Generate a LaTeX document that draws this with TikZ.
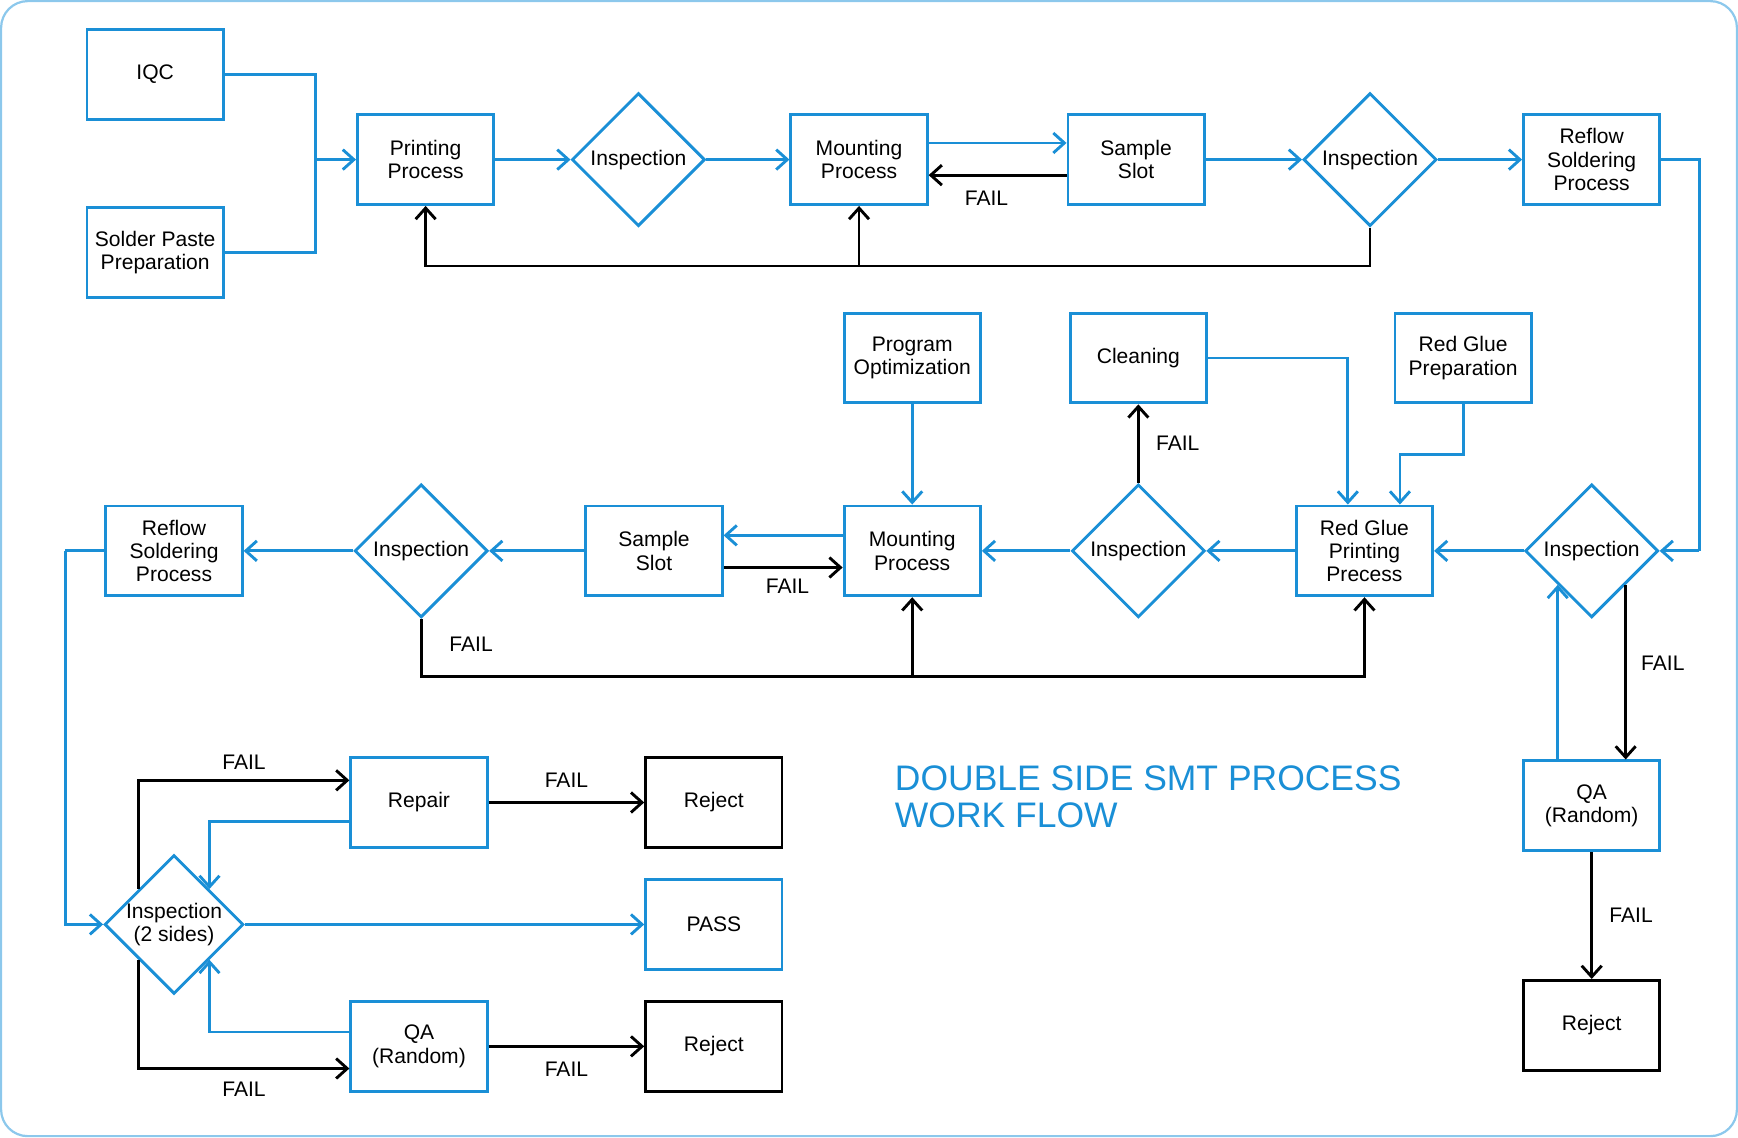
\documentclass[tikz,border=0pt]{standalone}
\usepackage{fontspec}
\setmainfont{Liberation Sans}
\usetikzlibrary{shapes.geometric,arrows.meta,calc}
\definecolor{bl}{HTML}{1A8FD6}
\definecolor{fr}{HTML}{8CC8EC}
\begin{document}
\begin{tikzpicture}[x=0.5pt,y=-0.5pt,
  box/.style={draw=bl,line width=1.3pt,minimum width=61.5pt,minimum height=40.5pt,inner sep=1pt,align=center,font=\fontsize{9.5}{10.5}\selectfont},
  bbox/.style={box,draw=black},
  dia/.style={draw=bl,line width=1.3pt,diamond,minimum width=60pt,minimum height=60pt,inner sep=0pt,align=center,font=\fontsize{9.5}{10.5}\selectfont},
  bar/.style={bl,line width=1.3pt,-{Straight Barb[length=5pt,width=9pt,line width=1.3pt]}},
  kar/.style={bar,black},
  bln/.style={bl,line width=1.3pt},
  kln/.style={black,line width=1.3pt},
  lab/.style={font=\fontsize{9.5}{10.5}\selectfont}]
\useasboundingbox (0,0) rectangle (1568,1026);
\draw[fr,line width=1pt,rounded corners=12pt] (1,1) rectangle (1567,1025);
% row 1
\node[box] (iqc) at (140,67) {IQC};
\node[box] (sp) at (140,228) {Solder Paste\\Preparation};
\node[box] (pr) at (384,144) {Printing\\Process};
\node[dia] (i1) at (576,144) {Inspection};
\node[box] (m1) at (775,144) {Mounting\\Process};
\node[box] (s1) at (1025,144) {Sample\\Slot};
\node[dia] (i2) at (1236,144) {Inspection};
\node[box] (r1) at (1436,144) {Reflow\\Soldering\\Process};
% row 2
\node[box] (po) at (823,323) {Program\\Optimization};
\node[box] (cl) at (1027,323) {Cleaning};
\node[box] (rgp) at (1320,323) {Red Glue\\Preparation};
\node[box] (r2) at (157,497) {Reflow\\Soldering\\Process};
\node[dia] (i3) at (380,497) {Inspection};
\node[box] (s2) at (590,497) {Sample\\Slot};
\node[box] (m2) at (823,497) {Mounting\\Process};
\node[dia] (i4) at (1027,497) {Inspection};
\node[box] (rg) at (1231,497) {Red Glue\\Printing\\Precess};
\node[dia] (i5) at (1436,497) {Inspection};
\node[box] (qa1) at (1436,727) {QA\\(Random)};
\node[bbox] (rj3) at (1436,925) {Reject};
% row 3
\node[box] (rp) at (378,724) {Repair};
\node[bbox] (rj1) at (644,724) {Reject};
\node[dia] (i6) at (157,834) {Inspection\\(2 sides)};
\node[box] (ps) at (644,834) {PASS};
\node[box] (qa2) at (378,944) {QA\\(Random)};
\node[bbox] (rj2) at (644,944) {Reject};
\node[anchor=north west,align=left,text=bl,font=\fontsize{16}{17}\selectfont,inner sep=0pt] (tt) at (807,690) {DOUBLE SIDE SMT PROCESS\\WORK FLOW};
% coordinates
\coordinate (j1) at (285,144);
\coordinate (c1) at (1533,144);
\coordinate (c2) at (1533,497);
% row1 connectors
\draw[bln] (iqc.east) -| (j1);
\draw[bln] (sp.east) -| (j1);
\draw[bar] (j1) -- (pr.west);
\draw[bar] (pr) -- (i1);
\draw[bar] (i1) -- (m1);
\draw[bar] ([yshift=7.5pt]m1.east) -- ([yshift=7.5pt]s1.west);
\draw[kar] ([yshift=-7pt]s1.west) -- ([yshift=-7pt]m1.east) node[lab,midway,below=3pt,xshift=-5pt] {FAIL};
\draw[bar] (s1) -- (i2);
\draw[bar] (i2) -- (r1);
\coordinate (b1) at (1236,240);
\draw[kar] (i2.south) -- (b1) -| (pr.south);
\draw[kar] (m1.south |- b1) -- (m1.south);
\draw[bln] (r1.east) -- (c1) -- (c2);
\draw[bar] (c2) -- (i5.east);
% row2
\draw[bar] (i5) -- (rg);
\draw[bar] (rg) -- (i4);
\draw[bar] (i4) -- (m2);
\draw[kar] (i4.north) -- (cl.south) node[lab,midway,right=4pt] {FAIL};
\coordinate (c3) at (1216,323);
\draw[bar] (cl.east) -- (c3) -- (c3 |- rg.north);
\coordinate (c4) at (1263,410);
\draw[bar] (rgp.south) |- (c4) -- (c4 |- rg.north);
\draw[bar] (po) -- (m2);
\draw[bar] ([yshift=7pt]m2.west) -- ([yshift=7pt]s2.east);
\draw[kar] ([yshift=-7.5pt]s2.east) -- ([yshift=-7.5pt]m2.west) node[lab,midway,below=1pt,xshift=2pt] {FAIL};
\draw[bar] (s2) -- (i3);
\draw[bar] (i3) -- (r2);
\coordinate (b2) at (380,610);
\draw[kar] (i3.south) -- (b2) -| (rg.south);
\draw[kar] (m2.south |- b2) -- (m2.south);
\node[lab] (f3) at (425,581) {FAIL};
\coordinate (c5) at (59,497);
\draw[bln] (r2.west) -- (c5);
\draw[bar] (c5) |- (i6.west);
% right column
\coordinate (q1) at ($(i5.east)!0.5!(i5.south)$);
\draw[kar] (q1) -- (q1 |- qa1.north) node[lab,pos=0.45,right=3pt] {FAIL};
\coordinate (q2) at ($(i5.west)!0.5!(i5.south)$);
\draw[bar] (q2 |- qa1.north) -- (q2);
\draw[kar] (qa1) -- (rj3) node[lab,midway,right=4pt] {FAIL};
% bottom left
\coordinate (d1) at ($(i6.west)!0.5!(i6.north)$);
\coordinate (d2) at ($(i6.east)!0.5!(i6.north)$);
\coordinate (d3) at ($(i6.west)!0.5!(i6.south)$);
\coordinate (d4) at ($(i6.east)!0.5!(i6.south)$);
\draw[kar] (d1) |- ([yshift=10pt]rp.west) node[lab,pos=0.75,above=1pt] {FAIL};
\draw[bar] ([yshift=-8.5pt]rp.west) -| (d2);
\draw[kar] (rp) -- (rj1) node[lab,midway,above=3pt] {FAIL};
\draw[bar] (i6) -- (ps);
\draw[kar] (d3) |- ([yshift=-10pt]qa2.west) node[lab,pos=0.75,below=2pt] {FAIL};
\draw[bar] ([yshift=6.5pt]qa2.west) -| (d4);
\draw[kar] (qa2) -- (rj2) node[lab,midway,below=3pt] {FAIL};
\end{tikzpicture}
\end{document}
